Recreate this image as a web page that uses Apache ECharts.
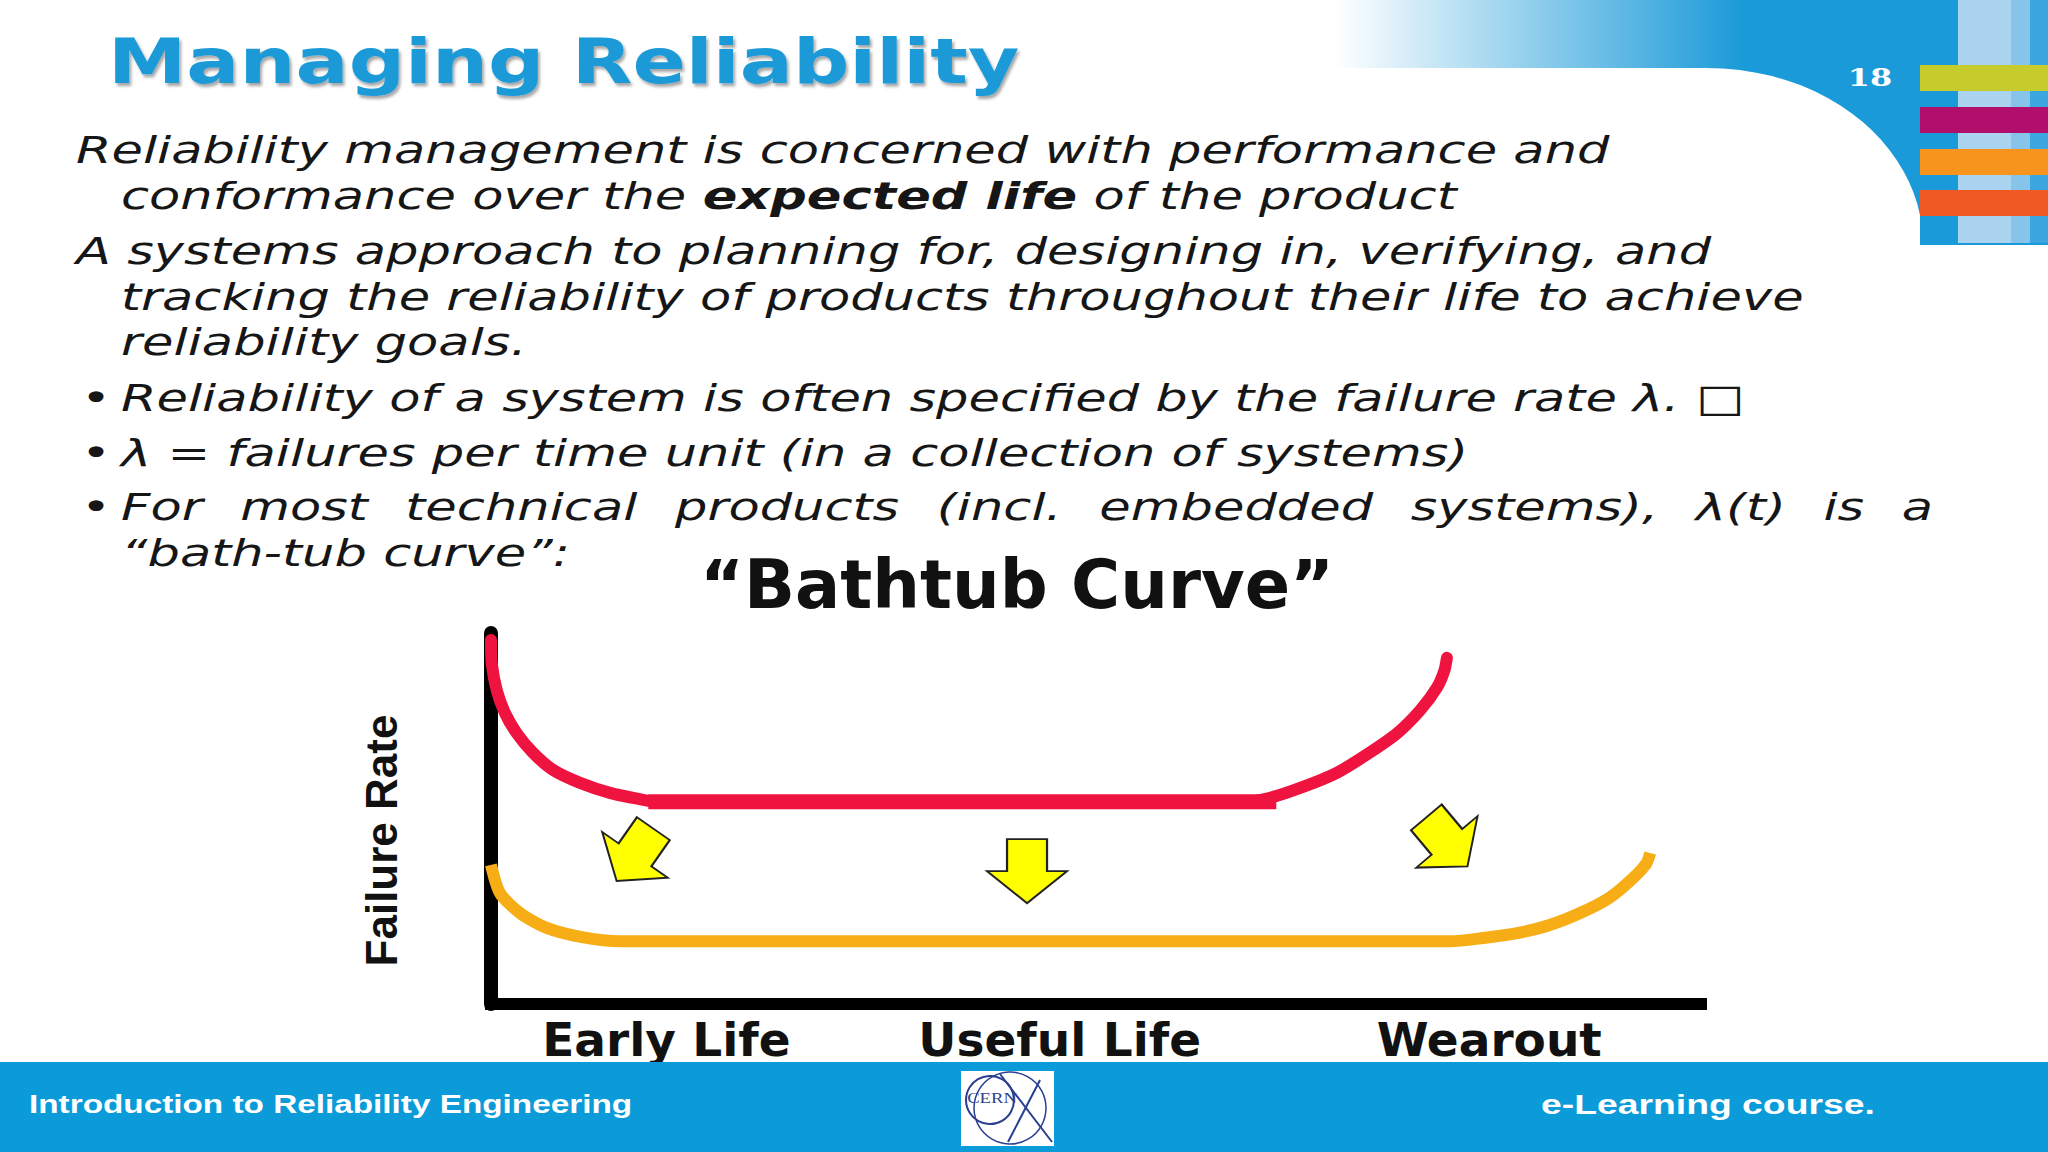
<!DOCTYPE html>
<html><head><meta charset="utf-8">
<script src="https://cdn.jsdelivr.net/npm/echarts@6/dist/echarts.min.js"></script>
<style>html,body{margin:0;padding:0;background:#fff;}#c{width:2048px;height:1152px;}</style>
</head><body><div id="c"></div>
<script>
// ---------------- chart data ----------------
const redCurve = [[0,98.1],[0.06,91.9],[0.47,84.6],[1.16,78.4],[2.12,73.0],[3.47,67.7],[5.12,63.1],[7.36,59.6],[9.83,56.9],[12.3,55.2],[13.7,54.5],[62.0,54.5],[64.4,55.6],[67.1,58.5],[69.9,62.3],[72.6,67.7],[74.9,73.0],[76.8,79.2],[78.2,85.4],[78.8,90.0],[79.0,93.3]];
const redPlateau = [[13.0,54.5],[64.9,54.5]];
const orangeCurve = [[0,37.5],[0.74,29.9],[2.4,24.5],[4.6,20.5],[7.4,18.1],[10.7,16.9],[79.3,16.9],[82.0,17.8],[84.8,19.1],[87.5,21.3],[90.2,24.8],[92.5,28.8],[94.4,34.0],[95.5,38.0],[95.8,40.7]];
const arrowPoints = [[11.9,40.2],[44.3,35.8],[79.0,43.7]];
const arrowAngles = [-35, 0, 40];
const phaseLabels = ['Early Life','Useful Life','Wearout'];
const phasePositions = [14.5, 47, 82.5];
const chartTitle = '\u201cBathtub Curve\u201d';
const yAxisName = 'Failure Rate';

// ---------------- slide texts ----------------
const slideTitle = 'Managing Reliability';
const slideNumber = '18';
const paraLines = [
  'Reliability management is concerned with performance and',
  'conformance over the {b|expected life} of the product',
  'A systems approach to planning for, designing in, verifying, and',
  'tracking the reliability of products throughout their life to achieve',
  'reliability goals.'
];
const bulletLines = [
  'Reliability of a system is often specified by the failure rate \u03bb. \u25a1',
  '\u03bb = failures per time unit (in a collection of systems)',
  'For most technical products (incl. embedded systems), \u03bb(t) is a',
  '\u201cbath-tub curve\u201d:'
];
const footerLeft = 'Introduction to Reliability Engineering';
const footerRight = 'e-Learning course.';

// ---------------- styles ----------------
const RED = '#ef1340';
const ORANGE = '#f6ad16';
const SX = 1.333;
const BODY_SX = 1.345;
const BODY_FONT = 38;
const bodyStyle = {fontFamily:'DejaVu Sans', fontStyle:'italic', fontSize:BODY_FONT, fill:'#161616', verticalAlign:'middle'};

function txt(x, y, text, extra, sx) {
  return {type:'text', x:x, y:y, scaleX: sx || BODY_SX, z:10,
    style: Object.assign({}, bodyStyle, {text:text}, extra || {})};
}

const graphics = [];
// top-right decoration (blue band with curved edge)
const bandPts = [[1300,0],[2048,0],[2048,245],[1920,245],[1920,215]];
(function(){
  const p0=[1920,215], p1=[1905,140], p2=[1825,68], p3=[1705,68];
  for (let k=1;k<=20;k++){
    const t=k/20, u=1-t;
    bandPts.push([u*u*u*p0[0]+3*u*u*t*p1[0]+3*u*t*t*p2[0]+t*t*t*p3[0],
                  u*u*u*p0[1]+3*u*u*t*p1[1]+3*u*t*t*p2[1]+t*t*t*p3[1]]);
  }
})();
bandPts.push([1300,68]);
graphics.push({type:'polygon', z:1, shape:{points:bandPts},
  style:{fill:new echarts.graphic.LinearGradient(1335,0,1745,0,[{offset:0,color:'#ffffff'},{offset:1,color:'#1a9ad8'}], true)}});
graphics.push({type:'rect', z:2, shape:{x:1958,y:0,width:53,height:243}, style:{fill:'#a9d3ef'}});
graphics.push({type:'rect', z:2, shape:{x:2011,y:0,width:19,height:243}, style:{fill:'#86c4ea'}});
graphics.push({type:'rect', z:2, shape:{x:2030,y:0,width:18,height:243}, style:{fill:'#3ba6df'}});
[['#c5cc2c',65],['#b0106b',107],['#f7941e',149],['#f05a22',190]].forEach(function(s){
  graphics.push({type:'rect', z:3, shape:{x:1920,y:s[1],width:128,height:26}, style:{fill:s[0]}});
});
graphics.push({type:'text', x:1870, y:78, scaleX:SX, z:10, style:{text:slideNumber, fontFamily:'DejaVu Serif', fontWeight:'bold', fontSize:24, fill:'#ffffff', align:'center', verticalAlign:'middle'}});

// slide title
graphics.push({type:'text', x:108, y:62, scaleX:1.27, z:10, style:{text:slideTitle, fontFamily:'DejaVu Sans', fontWeight:'bold', fontSize:62, fill:'#1b9ad8', verticalAlign:'middle',
  textShadowColor:'rgba(0,0,0,0.35)', textShadowOffsetX:2, textShadowOffsetY:3, textShadowBlur:3}});

// paragraph lines
const paraX = [76, 121, 76, 121, 121];
const paraY = [150, 196, 251, 297, 342];
paraLines.forEach(function(t, i){
  graphics.push(txt(paraX[i], paraY[i], t, {rich:{b:{fontFamily:'DejaVu Sans', fontStyle:'italic', fontWeight:'bold', fontSize:BODY_FONT, fill:'#161616'}}}));
});
// bullets
const bulletY = [398, 453, 507, 553];
const bulletHasDot = [true, true, true, false];
bulletLines.forEach(function(t, i){
  if (bulletHasDot[i]) graphics.push(txt(81, bulletY[i], '\u2022', {fontStyle:'normal'}));
  if (i === 2) {
    const words = t.split(' ');
    const ctx = document.createElement('canvas').getContext('2d');
    ctx.font = 'italic ' + BODY_FONT + 'px "DejaVu Sans"';
    const widths = words.map(function(w){ return ctx.measureText(w).width * BODY_SX; });
    const total = widths.reduce(function(a,b){return a+b;}, 0);
    const gap = (1933 - 121 - total) / (words.length - 1);
    let x = 121;
    words.forEach(function(w, k){ graphics.push(txt(x, bulletY[i], w)); x += widths[k] + gap; });
  } else {
    graphics.push(txt(121, bulletY[i], t));
  }
});

// footer
graphics.push({type:'rect', z:1, shape:{x:0,y:1062,width:2048,height:90}, style:{fill:'#0b9bd9'}});
graphics.push({type:'text', x:29, y:1104, scaleX:SX, z:10, style:{text:footerLeft, fontFamily:'Liberation Sans', fontWeight:'bold', fontSize:25, fill:'#ffffff', verticalAlign:'middle'}});
graphics.push({type:'text', x:1541, y:1104, scaleX:SX, z:10, style:{text:footerRight, fontFamily:'Liberation Sans', fontWeight:'bold', fontSize:28, fill:'#ffffff', verticalAlign:'middle'}});
// CERN logo
graphics.push({type:'rect', z:2, shape:{x:961,y:1071,width:93,height:75}, style:{fill:'#ffffff'}});
graphics.push({type:'circle', z:3, shape:{cx:990,cy:1100,r:24}, style:{fill:'none', stroke:'#2a3f8f', lineWidth:2}});
graphics.push({type:'line', z:3, shape:{x1:1000,y1:1074,x2:1052,y2:1142}, style:{stroke:'#2a3f8f', lineWidth:2}});
graphics.push({type:'line', z:3, shape:{x1:1040,y1:1080,x2:1008,y2:1142}, style:{stroke:'#2a3f8f', lineWidth:2}});
graphics.push({type:'circle', z:3, shape:{cx:1010,cy:1108,r:36}, style:{fill:'none', stroke:'#2a3f8f', lineWidth:1.5}});
graphics.push({type:'text', x:992, y:1098, scaleX:SX, z:4, style:{text:'CERN', fontFamily:'Liberation Serif', fontSize:14, fill:'#2a3f8f', align:'center', verticalAlign:'middle'}});

const chart = echarts.init(document.getElementById('c'), null, {renderer:'svg'});
chart.setOption({
  animation:false,
  backgroundColor:'#ffffff',
  title:{text:chartTitle, left:700, top:551, padding:0,
    textStyle:{fontFamily:'DejaVu Sans', fontWeight:'bold', fontSize:67, color:'#111111'}},
  grid:{left:491, right:347, top:633, bottom:148, outerBoundsMode:'none'},
  xAxis:{type:'value', min:0, max:100,
    axisLine:{show:true, onZero:false, lineStyle:{color:'#000000', width:12, cap:'square'}},
    axisTick:{show:false}, splitLine:{show:false},
    axisLabel:{customValues:phasePositions, margin:12,
      formatter:function(v){ for (let i=0;i<phasePositions.length;i++){ if (Math.abs(phasePositions[i]-v)<1e-6) return phaseLabels[i]; } return ''; },
      fontFamily:'DejaVu Sans', fontWeight:'bold', fontSize:47, color:'#111111'}},
  yAxis:{type:'value', min:0, max:100,
    axisLine:{show:true, lineStyle:{color:'#000000', width:14}},
    axisTick:{show:false}, axisLabel:{show:false}, splitLine:{show:false},
    name:yAxisName, nameLocation:'middle', nameRotate:90, nameGap:88,
    nameTextStyle:{fontFamily:'Liberation Sans', fontWeight:'bold', fontSize:44, color:'#111111', padding:[0,44,0,0]}},
  series:[
    {type:'line', data:redCurve, smooth:0.25, symbol:'none', lineStyle:{color:RED, width:12, cap:'round'}, z:3},
    {type:'line', data:redPlateau, symbol:'none', lineStyle:{color:RED, width:15}, z:3},
    {type:'line', data:orangeCurve, smooth:0.25, symbol:'none', lineStyle:{color:ORANGE, width:12, cap:'butt'}, z:3},
    {type:'scatter', z:5,
      data:arrowPoints.map(function(p,i){ return {value:p, symbolRotate:arrowAngles[i]}; }),
      symbol:'path://M25,0 L75,0 L75,50 L100,50 L50,100 L0,50 L25,50 Z', symbolSize:[80,64],
      itemStyle:{color:'#ffff00', borderColor:'#222222', borderWidth:2, opacity:1}}
  ],
  graphic:graphics
});
</script>
</body></html>
